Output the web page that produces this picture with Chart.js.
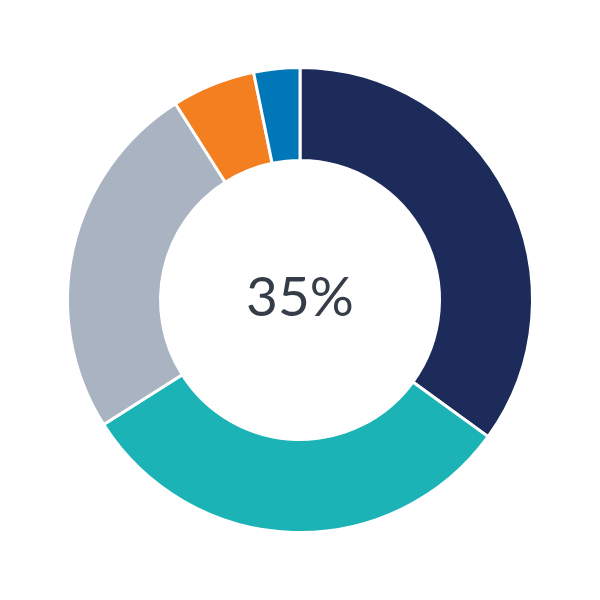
<!DOCTYPE html>
<html>
<head>
<meta charset="utf-8">
<script src="https://cdn.jsdelivr.net/npm/chart.js@4"></script>
<style>
  html, body { margin: 0; padding: 0; background: #fff; }
  #wrap { width: 600px; height: 600px; }
</style>
</head>
<body>
<div id="wrap"><canvas id="donut"></canvas></div>
<script>
  // segment shares, clockwise from 12 o'clock
  const labels = ['Navy', 'Teal', 'Gray', 'Orange', 'Blue'];
  const values = [35, 31, 25, 5.8, 3.2];
  const colors = ['#1c2b5a', '#1bb3b6', '#a9b3c1', '#f47f20', '#0077b6'];
  const centerLabel = '35%';

  // draws the big number in the hole
  const centerText = {
    id: 'centerText',
    afterDraw(chart) {
      const { ctx, chartArea } = chart;
      const x = (chartArea.left + chartArea.right) / 2;
      const y = (chartArea.top + chartArea.bottom) / 2;
      ctx.save();
      ctx.font = '400 55px Lato, "Open Sans", sans-serif';
      ctx.fillStyle = '#353e48';
      ctx.textAlign = 'center';
      ctx.textBaseline = 'middle';
      ctx.fillText(centerLabel, x, y - 2);
      ctx.restore();
    }
  };

  new Chart(document.getElementById('donut'), {
    type: 'doughnut',
    data: {
      labels: labels,
      datasets: [{
        data: values,
        backgroundColor: colors,
        borderColor: '#ffffff',
        borderWidth: 3,
      }]
    },
    options: {
      responsive: true,
      maintainAspectRatio: false,
      animation: false,
      cutout: '60%',
      layout: { padding: 66 },
      plugins: {
        legend: { display: false },
        tooltip: { enabled: false },
      },
    },
    plugins: [centerText],
  });
</script>
</body>
</html>
